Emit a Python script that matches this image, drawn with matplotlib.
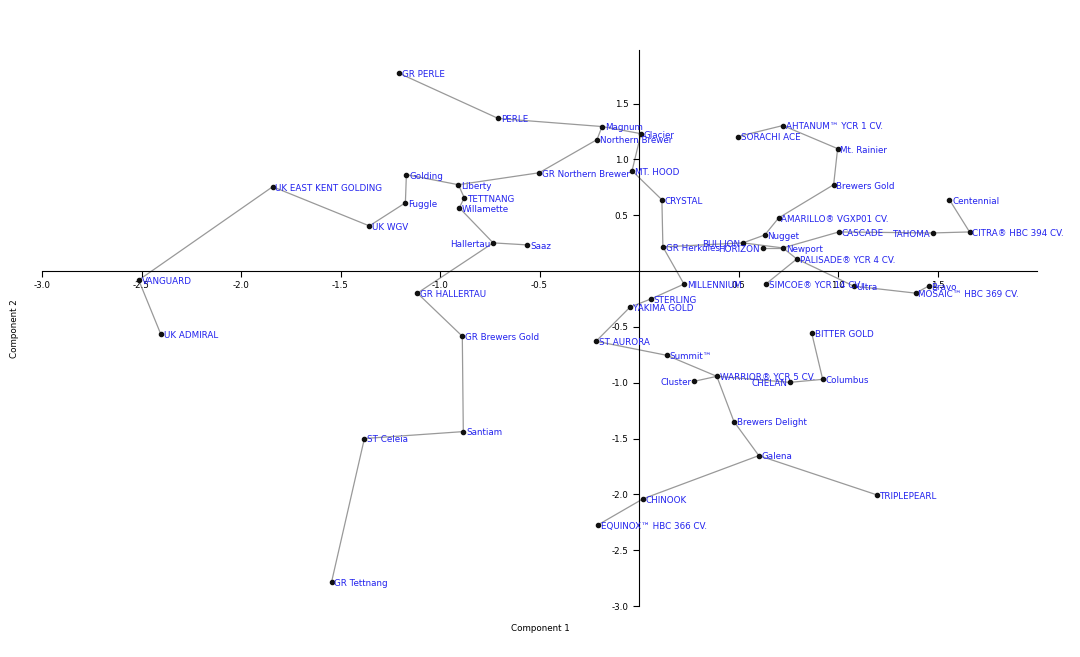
import matplotlib
matplotlib.use("Agg")
import matplotlib.pyplot as plt

names = ["GR PERLE", "PERLE", "Magnum", "Glacier", "Northern Brewer", "GR Northern Brewer",
         "MT. HOOD", "CRYSTAL", "GR Herkules", "MILLENNIUM", "STERLING", "YAKIMA GOLD",
         "ST AURORA", "Summit™", "WARRIOR® YCR 5 CV.", "Cluster", "CHELAN", "Columbus",
         "BITTER GOLD", "Brewers Delight", "Galena", "TRIPLEPEARL", "CHINOOK",
         "EQUINOX™ HBC 366 CV.", "AHTANUM™ YCR 1 CV.", "SORACHI ACE", "Mt. Rainier",
         "Brewers Gold", "AMARILLO® VGXP01 CV.", "Nugget", "BULLION", "HORIZON", "Newport",
         "CASCADE", "TAHOMA", "CITRA® HBC 394 CV.", "Centennial", "PALISADE® YCR 4 CV.",
         "SIMCOE® YCR 14 CV.", "Ultra", "MOSAIC™ HBC 369 CV.", "Bravo", "Liberty", "Golding",
         "Fuggle", "TETTNANG", "Willamette", "Hallertau", "Saaz", "UK WGV",
         "UK EAST KENT GOLDING", "VANGUARD", "UK ADMIRAL", "GR HALLERTAU", "GR Brewers Gold",
         "Santiam", "ST Celeia", "GR Tettnang"]
comp1 = [-1.204, -0.707, -0.186, 0.01, -0.211, -0.502, -0.035, 0.115, 0.12, 0.226, 0.06, -0.045,
         -0.216, 0.14, 0.391, 0.276, 0.758, 0.923, 0.868, 0.477, 0.602, 1.194, 0.02, -0.206,
         0.723, 0.497, 0.998, 0.978, 0.702, 0.632, 0.522, 0.622, 0.723, 1.004, 1.475, 1.661,
         1.56, 0.793, 0.637, 1.079, 1.39, 1.455, -0.908, -1.169, -1.174, -0.878, -0.903,
         -0.733, -0.562, -1.355, -1.841, -2.514, -2.403, -1.114, -0.888, -0.883, -1.38, -1.545]
comp2 = [1.77, 1.366, 1.294, 1.23, 1.177, 0.88, 0.898, 0.638, 0.216, -0.117, -0.25, -0.323,
         -0.629, -0.755, -0.943, -0.988, -0.997, -0.97, -0.557, -1.348, -1.653, -2.004, -2.04,
         -2.273, 1.303, 1.204, 1.096, 0.773, 0.476, 0.323, 0.252, 0.207, 0.207, 0.35, 0.341,
         0.35, 0.638, 0.108, -0.117, -0.135, -0.198, -0.135, 0.773, 0.863, 0.611, 0.656,
         0.566, 0.252, 0.234, 0.404, 0.755, -0.081, -0.566, -0.198, -0.584, -1.438, -1.5, -2.785]

edges = [("GR PERLE", "PERLE"), ("PERLE", "Magnum"), ("Magnum", "Glacier"),
         ("Magnum", "Northern Brewer"), ("Northern Brewer", "GR Northern Brewer"),
         ("GR Northern Brewer", "Liberty"), ("Liberty", "Golding"), ("Golding", "Fuggle"),
         ("Fuggle", "UK WGV"), ("UK WGV", "UK EAST KENT GOLDING"),
         ("UK EAST KENT GOLDING", "VANGUARD"), ("VANGUARD", "UK ADMIRAL"),
         ("Liberty", "TETTNANG"), ("TETTNANG", "Willamette"), ("Willamette", "Hallertau"),
         ("Hallertau", "Saaz"), ("Hallertau", "GR HALLERTAU"), ("GR HALLERTAU", "GR Brewers Gold"),
         ("GR Brewers Gold", "Santiam"), ("Santiam", "ST Celeia"), ("ST Celeia", "GR Tettnang"),
         ("Glacier", "MT. HOOD"), ("MT. HOOD", "CRYSTAL"), ("CRYSTAL", "GR Herkules"),
         ("GR Herkules", "MILLENNIUM"), ("GR Herkules", "BULLION"), ("MILLENNIUM", "STERLING"),
         ("STERLING", "YAKIMA GOLD"), ("YAKIMA GOLD", "ST AURORA"), ("ST AURORA", "Summit™"),
         ("Summit™", "WARRIOR® YCR 5 CV."), ("WARRIOR® YCR 5 CV.", "Cluster"),
         ("WARRIOR® YCR 5 CV.", "CHELAN"), ("CHELAN", "Columbus"), ("Columbus", "BITTER GOLD"),
         ("WARRIOR® YCR 5 CV.", "Brewers Delight"), ("Brewers Delight", "Galena"),
         ("Galena", "TRIPLEPEARL"), ("Galena", "CHINOOK"), ("CHINOOK", "EQUINOX™ HBC 366 CV."),
         ("BULLION", "Nugget"), ("Nugget", "AMARILLO® VGXP01 CV."),
         ("AMARILLO® VGXP01 CV.", "Brewers Gold"), ("Brewers Gold", "Mt. Rainier"),
         ("Mt. Rainier", "AHTANUM™ YCR 1 CV."), ("AHTANUM™ YCR 1 CV.", "SORACHI ACE"),
         ("BULLION", "Newport"), ("HORIZON", "Newport"), ("Newport", "CASCADE"),
         ("CASCADE", "TAHOMA"), ("TAHOMA", "CITRA® HBC 394 CV."),
         ("CITRA® HBC 394 CV.", "Centennial"), ("Newport", "PALISADE® YCR 4 CV."),
         ("PALISADE® YCR 4 CV.", "SIMCOE® YCR 14 CV."), ("PALISADE® YCR 4 CV.", "Ultra"),
         ("Ultra", "MOSAIC™ HBC 369 CV."), ("MOSAIC™ HBC 369 CV.", "Bravo")]

right_aligned = {"BULLION", "HORIZON", "TAHOMA", "Cluster", "CHELAN", "Hallertau"}

fig = plt.figure(figsize=(10.8, 6.57), dpi=100)
ax = fig.add_axes([0.0389, 0.0776, 0.9213, 0.8464])

idx = {n: i for i, n in enumerate(names)}
for a, b in edges:
    i, j = idx[a], idx[b]
    ax.plot([comp1[i], comp1[j]], [comp2[i], comp2[j]], color="#999999", lw=0.9, zorder=1)
ax.scatter(comp1, comp2, s=9, color="#111111", zorder=3)
for n, x, y in zip(names, comp1, comp2):
    if n in right_aligned:
        ax.annotate(n, (x, y), xytext=(-2, -1), textcoords="offset points", ha="right",
                    va="center", fontsize=6.3, color="#2222ee", zorder=4)
    else:
        ax.annotate(n, (x, y), xytext=(2, -1), textcoords="offset points", ha="left",
                    va="center", fontsize=6.3, color="#2222ee", zorder=4)

ax.set_xlim(-3.0, 2.0)
ax.set_ylim(-3.0, 1.98)
for s in ["top", "right"]:
    ax.spines[s].set_visible(False)
ax.spines["left"].set_position(("data", 0))
ax.spines["bottom"].set_position(("data", 0))
ax.set_xticks([-3.0, -2.5, -2.0, -1.5, -1.0, -0.5, 0.5, 1.0, 1.5])
ax.set_yticks([-3.0, -2.5, -2.0, -1.5, -1.0, -0.5, 0.5, 1.0, 1.5])
ax.xaxis.set_major_formatter(lambda v, p: f"{v:.1f}")
ax.yaxis.set_major_formatter(lambda v, p: f"{v:.1f}")
ax.tick_params(labelsize=6.3, length=4, width=0.8)
fig.text(0.5, 0.04, "Component 1", ha="center", fontsize=6.3)
fig.text(0.009, 0.5, "Component 2", va="center", rotation=90, fontsize=6.3)

fig.savefig("out.png", dpi=100)
